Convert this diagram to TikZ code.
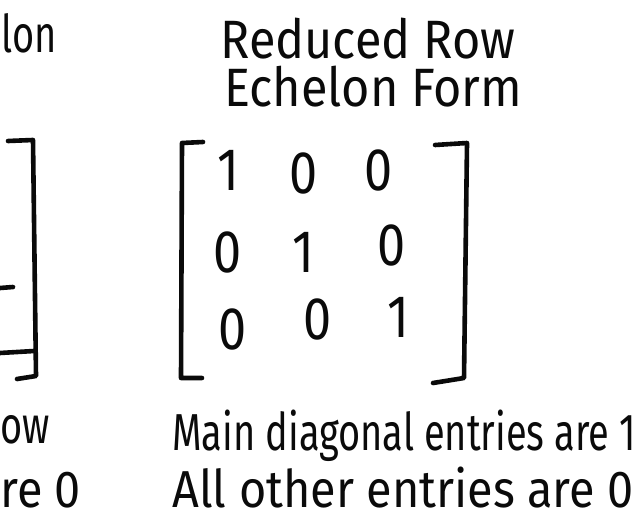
\documentclass[tikz,border=0pt]{standalone}
\usepackage{fontspec}
\usepackage{tikz}
\usetikzlibrary{positioning}
\newfontfamily\titlefont[FakeStretch=0.9]{Fira Sans}
\newfontfamily\entryfont[FakeStretch=0.84]{Fira Sans}
\newfontfamily\notefont[FakeStretch=0.73]{Fira Sans}
\newfontfamily\widefont[FakeStretch=0.9]{Fira Sans}
\definecolor{ink}{RGB}{10,10,10}
\tikzset{
  hand/.style={inner sep=0pt,text=ink,font=\titlefont\fontsize{27}{29}\selectfont},
  note/.style={hand,font=\notefont\fontsize{26}{28}\selectfont},
  widenote/.style={hand,font=\widefont\fontsize{26}{28}\selectfont},
  entry/.style={hand,font=\entryfont\fontsize{30}{32}\selectfont},
  brack/.style={draw=ink,line width=2.3pt,line cap=round,line join=round},
}
\begin{document}
\begin{tikzpicture}[x=0.5pt,y=-0.5pt]
\useasboundingbox (0,0) rectangle (635,529);
% titles
\node[hand,anchor=base west] (title1) at (220,59) {Reduced Row};
\node[hand,anchor=base west] (title2) at (224,107) {Echelon Form};
\node[note,anchor=base west] (leftitle) at (1,53) {lon};

% matrix entries
\foreach \x/\y/\v [count=\i] in {228/170/1,304/173/0,379/170/0,
                                228/252/0,303/252/1,392/245/0,
                                233/329/0,318/319/0,398/317/1}
  \node[entry] (entry\i) at (\x,\y) {\v};

% brackets
\draw[brack] (203,142) -- (182,143) -- (181,378) -- (202,378);
\draw[brack] (435,145) -- (467,143) -- (464,378) -- (433,383);
\draw[brack] (8,141) -- (33,140) -- (36,376) -- (17,379);
\draw[brack] (0,353) -- (34,351);
\draw[brack] (0,288) -- (13,287);

% notes
\node[note,anchor=base west] (note1) at (172,450) {Main diagonal entries are 1};
\node[widenote,anchor=base west] (note2) at (172,507) {All other entries are 0};
\node[note,anchor=base west] (leftnote1) at (0,443) {ow};
\node[widenote,anchor=base west] (leftnote2) at (0,507) {re 0};
\end{tikzpicture}
\end{document}
